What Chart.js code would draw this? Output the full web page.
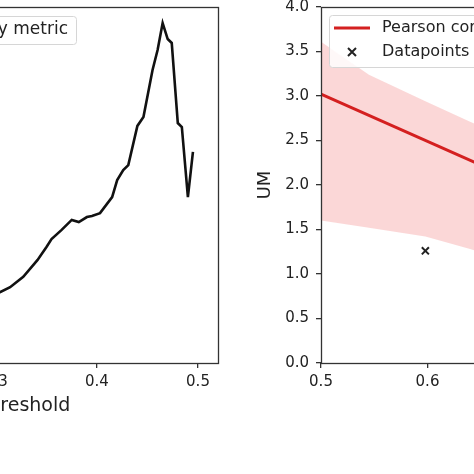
<!DOCTYPE html>
<html>
<head>
<meta charset="utf-8">
<script src="https://cdn.jsdelivr.net/npm/chart.js@4.4.1/dist/chart.umd.min.js"></script>
<style>
  html, body { margin: 0; padding: 0; background: #fff; }
  #wrap { position: relative; width: 474px; height: 474px; overflow: hidden; background: #fff; }
  #left { position: absolute; left: -180px; top: 0; }
  #right { position: absolute; left: 240px; top: 0; }
</style>
</head>
<body>
<div id="wrap">
  <canvas id="left" width="400" height="474"></canvas>
  <canvas id="right" width="301" height="474"></canvas>
</div>
<script>
// left panel: metric vs threshold
const thresholds = [0.27, 0.285, 0.304, 0.314, 0.327, 0.341, 0.350, 0.355, 0.365, 0.375, 0.382, 0.390, 0.395, 0.403, 0.415, 0.420, 0.426, 0.431, 0.440, 0.446, 0.455, 0.460, 0.465, 0.470, 0.474, 0.480, 0.484, 0.490, 0.495];
const metric = [0.21, 0.195, 0.199, 0.213, 0.242, 0.289, 0.326, 0.348, 0.374, 0.402, 0.396, 0.410, 0.413, 0.421, 0.466, 0.514, 0.542, 0.556, 0.666, 0.691, 0.823, 0.879, 0.955, 0.910, 0.899, 0.674, 0.663, 0.466, 0.593];
const leftXTicks = [0.2, 0.3, 0.4, 0.5];

// right panel: UM vs x, pearson fit with band
const fitX = [0.5, 0.7];
const fitY = [3.02, 1.96];
const bandX = [0.5, 0.545, 0.598, 0.64, 0.7];
const bandUpper = [3.61, 3.24, 2.94, 2.71, 2.40];
const bandLower = [1.60, 1.52, 1.42, 1.28, 1.05];
const pointX = [0.598];
const pointY = [1.26];
const umTicks = [0, 0.5, 1, 1.5, 2, 2.5, 3, 3.5, 4];

const FONT = 'DejaVu Sans';
const pts = (xs, ys) => xs.map((x, i) => ({ x: x, y: ys[i] }));

// box round the plot area
const frame = {
  id: 'frame',
  afterDatasetsDraw(chart) {
    const { ctx, chartArea: a } = chart;
    ctx.save();
    ctx.strokeStyle = '#333';
    ctx.lineWidth = 1.3;
    ctx.strokeRect(Math.round(a.left) + 0.5, Math.round(a.top) + 0.5,
      Math.round(a.right - a.left), Math.round(a.bottom - a.top));
    ctx.restore();
  }
};

function legendBox(ctx, x, y, w, h) {
  ctx.save();
  ctx.fillStyle = 'rgba(255,255,255,0.85)';
  ctx.strokeStyle = '#d6d6d6';
  ctx.lineWidth = 1;
  ctx.beginPath();
  ctx.roundRect(x + 0.5, y + 0.5, w, h, 3);
  ctx.fill();
  ctx.stroke();
  ctx.restore();
}

const leftLegend = {
  id: 'leftLegend',
  afterDraw(chart) {
    const ctx = chart.ctx;
    legendBox(ctx, 40, 16, 216, 28);
    ctx.save();
    ctx.font = '17px ' + FONT;
    ctx.fillStyle = '#222';
    ctx.textAlign = 'right';
    ctx.textBaseline = 'middle';
    ctx.fillText('Quality metric', 248, 30);
    const w = ctx.measureText('Quality metric').width;
    ctx.strokeStyle = '#111';
    ctx.lineWidth = 2;
    ctx.beginPath();
    ctx.moveTo(248 - w - 40, 30);
    ctx.lineTo(248 - w - 10, 30);
    ctx.stroke();
    ctx.restore();
  }
};

const rightLegend = {
  id: 'rightLegend',
  afterDraw(chart) {
    const ctx = chart.ctx;
    legendBox(ctx, 89, 15, 206, 52);
    ctx.save();
    ctx.strokeStyle = '#d42020';
    ctx.lineWidth = 2.8;
    ctx.beginPath();
    ctx.moveTo(94, 28);
    ctx.lineTo(130, 28);
    ctx.stroke();
    ctx.strokeStyle = '#222';
    ctx.lineWidth = 2;
    ctx.beginPath();
    ctx.moveTo(108, 48); ctx.lineTo(116, 56);
    ctx.moveTo(116, 48); ctx.lineTo(108, 56);
    ctx.stroke();
    ctx.font = '16px ' + FONT;
    ctx.fillStyle = '#222';
    ctx.textBaseline = 'middle';
    ctx.fillText('Pearson correlation', 142, 28);
    ctx.fillText('Datapoints', 142, 52);
    ctx.restore();
  }
};

const tickFont = { family: FONT, size: 15 };
const tickGrid = { drawOnChartArea: false, drawTicks: true, tickLength: 5, color: '#333', lineWidth: 1.3 };
const noPad = s => { s.paddingTop = 0; s.paddingBottom = 0; s.paddingLeft = 0; s.paddingRight = 0; };

new Chart(document.getElementById('left'), {
  type: 'scatter',
  data: {
    datasets: [{
      data: pts(thresholds, metric),
      showLine: true,
      borderColor: '#111',
      borderWidth: 2.6,
      pointRadius: 0,
      tension: 0
    }]
  },
  options: {
    responsive: false,
    animation: false,
    layout: { padding: { left: 9, right: 2, top: 7, bottom: 57 } },
    plugins: { legend: { display: false }, tooltip: { enabled: false } },
    scales: {
      x: {
        type: 'linear',
        min: 0.1347,
        max: 0.5198,
        afterBuildTicks: s => { s.ticks = leftXTicks.map(v => ({ value: v })); },
        afterFit: s => { s.height = 54; noPad(s); },
        ticks: { font: tickFont, color: '#222', padding: 5, callback: v => v.toFixed(1) },
        grid: tickGrid,
        border: { display: false },
        title: { display: true, text: 'Threshold', font: { family: FONT, size: 19 }, color: '#222', padding: 0 }
      },
      y: { display: false, min: 0, max: 1 }
    }
  },
  plugins: [frame, leftLegend]
});

new Chart(document.getElementById('right'), {
  type: 'scatter',
  data: {
    datasets: [
      {
        data: pts(bandX, bandUpper),
        showLine: true,
        borderWidth: 0,
        pointRadius: 0,
        backgroundColor: 'rgba(250,205,205,0.8)',
        fill: '+1',
        order: 3
      },
      {
        data: pts(bandX, bandLower),
        showLine: true,
        borderWidth: 0,
        pointRadius: 0,
        fill: false,
        order: 3
      },
      {
        data: pts(fitX, fitY),
        showLine: true,
        borderColor: '#d42020',
        borderWidth: 3,
        pointRadius: 0,
        order: 2
      },
      {
        data: pts(pointX, pointY),
        pointStyle: 'crossRot',
        pointRadius: 5,
        borderColor: '#222',
        borderWidth: 2,
        order: 1
      }
    ]
  },
  options: {
    responsive: false,
    animation: false,
    layout: { padding: { left: 15, right: 2, top: 7, bottom: 57 } },
    plugins: { legend: { display: false }, tooltip: { enabled: false } },
    scales: {
      x: {
        type: 'linear',
        min: 0.5,
        max: 0.7,
        afterFit: s => { s.height = 54; noPad(s); },
        ticks: { stepSize: 0.1, font: tickFont, color: '#222', padding: 5, callback: v => v.toFixed(1) },
        grid: tickGrid,
        border: { display: false }
      },
      y: {
        min: 0,
        max: 4,
        afterBuildTicks: s => { s.ticks = umTicks.map(v => ({ value: v })); },
        afterFit: s => { s.width = 66; noPad(s); },
        ticks: { font: tickFont, color: '#222', padding: 7, callback: v => v.toFixed(1) },
        grid: tickGrid,
        border: { display: false },
        title: { display: true, text: 'UM', font: { family: FONT, size: 18 }, color: '#222', padding: 0 }
      }
    }
  },
  plugins: [frame, rightLegend]
});
</script>
</body>
</html>
